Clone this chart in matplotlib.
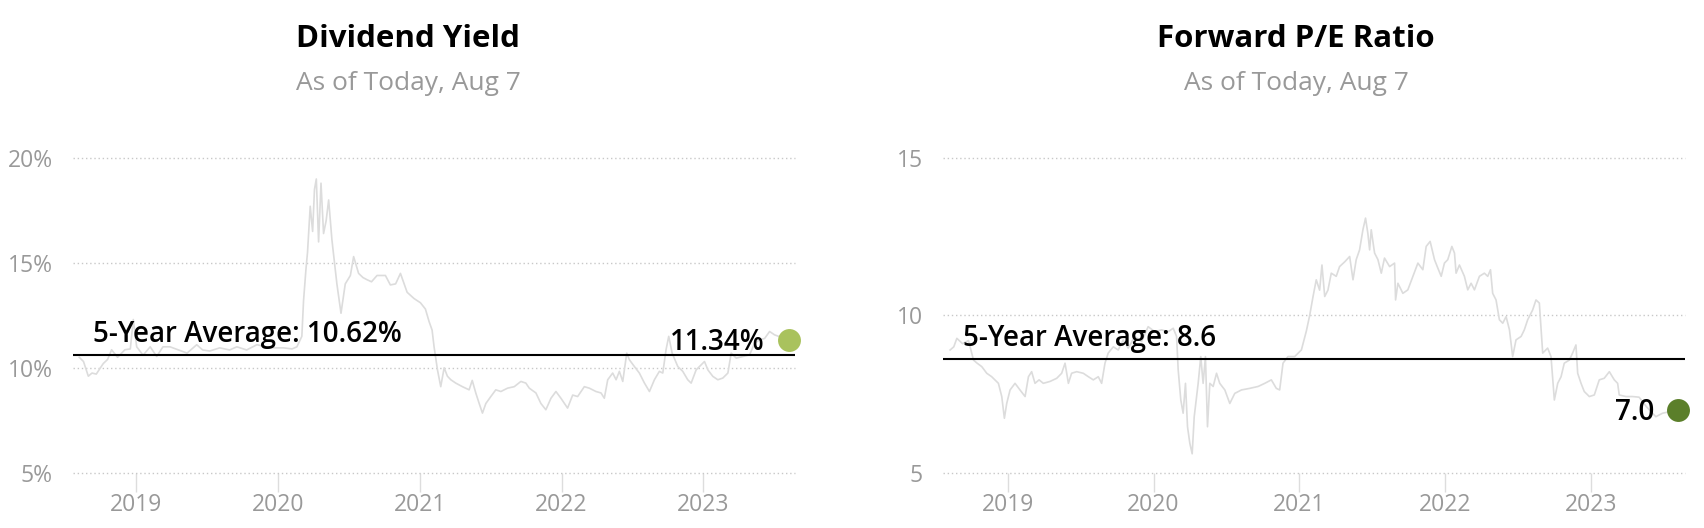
import matplotlib
matplotlib.use('Agg')
import matplotlib.pyplot as plt
from matplotlib import font_manager as fm

plt.rcParams['font.family'] = ['Open Sans', 'DejaVu Sans']

# ---- data (x = decimal year) ----
dy_t = [2018.600, 2018.630, 2018.664, 2018.690, 2018.720, 2018.769, 2018.800, 2018.828, 2018.870, 2018.922,
        2018.960, 2018.981, 2019.005, 2019.050, 2019.100, 2019.146, 2019.190, 2019.240, 2019.300, 2019.360,
        2019.428, 2019.470, 2019.520, 2019.590, 2019.660, 2019.711, 2019.780, 2019.852, 2019.920, 2019.980,
        2020.040, 2020.100, 2020.134, 2020.169, 2020.181, 2020.198, 2020.209, 2020.228, 2020.245, 2020.258,
        2020.271, 2020.287, 2020.304, 2020.322, 2020.340, 2020.358, 2020.381, 2020.416, 2020.445, 2020.475,
        2020.511, 2020.534, 2020.569, 2020.600, 2020.628, 2020.660, 2020.699, 2020.758, 2020.793, 2020.830,
        2020.864, 2020.890, 2020.911, 2020.960, 2021.005, 2021.040, 2021.066, 2021.087, 2021.101, 2021.125,
        2021.148, 2021.172, 2021.195, 2021.219, 2021.254, 2021.301, 2021.348, 2021.370, 2021.395, 2021.419,
        2021.442, 2021.466, 2021.501, 2021.536, 2021.572, 2021.619, 2021.666, 2021.713, 2021.748, 2021.772,
        2021.819, 2021.854, 2021.889, 2021.925, 2021.960, 2021.995, 2022.042, 2022.078, 2022.113, 2022.160,
        2022.195, 2022.242, 2022.278, 2022.301, 2022.325, 2022.360, 2022.384, 2022.407, 2022.431, 2022.459,
        2022.478, 2022.513, 2022.548, 2022.584, 2022.619, 2022.654, 2022.689, 2022.713, 2022.736, 2022.755,
        2022.779, 2022.819, 2022.854, 2022.889, 2022.913, 2022.948, 2022.984, 2023.007, 2023.031, 2023.066,
        2023.101, 2023.136, 2023.172, 2023.195, 2023.231, 2023.278, 2023.325, 2023.360, 2023.395, 2023.431,
        2023.466, 2023.501, 2023.550, 2023.600]
dy_v = [10.5, 10.3, 9.6, 9.75, 9.7, 10.2, 10.4, 10.86, 10.5, 10.86,
        10.9, 12.3, 11.0, 10.6, 11.0, 10.54, 11.0, 11.0, 10.85, 10.7,
        11.1, 10.85, 10.8, 10.95, 10.85, 11.0, 10.85, 11.1, 11.0, 10.95,
        10.95, 10.9, 11.0, 11.5, 13.2, 14.7, 15.5, 17.7, 16.5, 18.5,
        19.0, 16.0, 18.8, 16.4, 17.0, 18.0, 16.1, 14.0, 12.6, 14.0,
        14.4, 15.3, 14.5, 14.3, 14.2, 14.1, 14.4, 14.4, 13.95, 14.0,
        14.5, 14.0, 13.6, 13.3, 13.1, 12.8, 12.2, 11.8, 11.0, 9.9,
        9.1, 10.0, 9.6, 9.43, 9.27, 9.1, 8.95, 9.4, 8.8, 8.3,
        7.84, 8.3, 8.63, 8.95, 8.87, 9.03, 9.1, 9.35, 9.27, 9.03,
        8.8, 8.3, 8.0, 8.55, 8.87, 8.55, 8.08, 8.7, 8.63, 9.1,
        9.03, 8.87, 8.8, 8.55, 9.43, 9.75, 9.43, 9.83, 9.35, 10.7,
        10.38, 10.06, 9.75, 9.27, 8.87, 9.43, 9.83, 9.75, 10.86, 11.5,
        10.7, 10.06, 9.83, 9.43, 9.27, 9.9, 10.14, 10.3, 9.9, 9.59,
        9.43, 9.51, 9.75, 10.7, 10.46, 10.54, 10.62, 11.17, 11.33, 11.4,
        11.73, 11.57, 11.45, 11.34]

pe_t = [2018.605, 2018.630, 2018.651, 2018.690, 2018.731, 2018.765, 2018.790, 2018.822, 2018.856, 2018.890,
        2018.936, 2018.959, 2018.977, 2018.993, 2019.016, 2019.050, 2019.084, 2019.119, 2019.142, 2019.164,
        2019.187, 2019.215, 2019.244, 2019.290, 2019.336, 2019.370, 2019.393, 2019.416, 2019.438, 2019.473,
        2019.518, 2019.553, 2019.587, 2019.621, 2019.644, 2019.667, 2019.689, 2019.724, 2019.758, 2019.792,
        2019.826, 2019.872, 2019.918, 2019.963, 2020.009, 2020.055, 2020.100, 2020.135, 2020.158, 2020.169,
        2020.187, 2020.203, 2020.219, 2020.233, 2020.249, 2020.265, 2020.279, 2020.295, 2020.306, 2020.324,
        2020.340, 2020.356, 2020.370, 2020.386, 2020.409, 2020.432, 2020.454, 2020.489, 2020.523, 2020.557,
        2020.603, 2020.660, 2020.717, 2020.763, 2020.808, 2020.842, 2020.865, 2020.888, 2020.922, 2020.968,
        2021.014, 2021.048, 2021.071, 2021.094, 2021.116, 2021.139, 2021.155, 2021.174, 2021.196, 2021.219,
        2021.253, 2021.276, 2021.311, 2021.345, 2021.368, 2021.390, 2021.413, 2021.436, 2021.454, 2021.470,
        2021.482, 2021.493, 2021.516, 2021.539, 2021.562, 2021.584, 2021.619, 2021.653, 2021.660, 2021.676,
        2021.710, 2021.744, 2021.779, 2021.813, 2021.847, 2021.870, 2021.897, 2021.927, 2021.950, 2021.973,
        2021.995, 2022.018, 2022.046, 2022.064, 2022.075, 2022.098, 2022.132, 2022.155, 2022.178, 2022.201,
        2022.235, 2022.269, 2022.292, 2022.311, 2022.326, 2022.349, 2022.372, 2022.395, 2022.418, 2022.441,
        2022.463, 2022.486, 2022.521, 2022.543, 2022.566, 2022.600, 2022.623, 2022.646, 2022.669, 2022.703,
        2022.726, 2022.749, 2022.772, 2022.795, 2022.817, 2022.852, 2022.874, 2022.897, 2022.909, 2022.932,
        2022.954, 2022.989, 2023.023, 2023.057, 2023.091, 2023.126, 2023.160, 2023.183, 2023.194, 2023.240,
        2023.285, 2023.330, 2023.380, 2023.445, 2023.491, 2023.550, 2023.600]
pe_v = [8.9, 9.0, 9.27, 9.1, 9.2, 8.58, 8.48, 8.37, 8.16, 8.05,
        7.84, 7.42, 6.73, 7.2, 7.63, 7.84, 7.63, 7.42, 8.05, 8.21,
        7.84, 7.95, 7.84, 7.9, 8.0, 8.16, 8.48, 7.84, 8.16, 8.21,
        8.16, 8.05, 7.95, 8.05, 7.84, 8.48, 8.8, 9.0, 8.9, 9.22,
        8.96, 9.33, 9.17, 9.64, 9.48, 9.54, 9.48, 9.59, 9.33, 8.27,
        7.31, 6.89, 7.84, 6.46, 5.93, 5.6, 6.78, 7.42, 7.84, 8.69,
        7.84, 8.69, 6.46, 7.84, 7.74, 8.16, 7.84, 7.63, 7.2, 7.52,
        7.63, 7.68, 7.74, 7.84, 7.95, 7.68, 7.63, 8.48, 8.69, 8.69,
        8.9, 9.5, 10.0, 10.6, 11.13, 10.8, 11.6, 10.6, 10.8, 11.34,
        11.24, 11.55, 11.7, 11.87, 11.13, 11.77, 12.08, 12.72, 13.09, 12.6,
        12.08, 12.72, 11.98, 11.77, 11.34, 11.82, 11.55, 11.66, 10.49, 11.02,
        10.7, 10.81, 11.24, 11.66, 11.45, 12.19, 12.35, 11.77, 11.5, 11.24,
        11.66, 11.77, 12.19, 11.98, 11.34, 11.6, 11.24, 10.81, 11.02, 10.81,
        11.24, 11.34, 11.24, 11.45, 10.7, 10.49, 9.86, 9.75, 9.96, 9.54,
        8.69, 9.22, 9.33, 9.54, 9.86, 10.17, 10.49, 10.39, 8.8, 8.96,
        8.69, 7.31, 7.84, 8.05, 8.48, 8.58, 8.8, 9.06, 8.16, 7.84,
        7.58, 7.42, 7.47, 7.95, 8.0, 8.21, 7.95, 7.84, 7.47, 7.42,
        7.42, 7.4, 7.1, 6.78, 6.89, 6.95, 7.0]

years = [2019, 2020, 2021, 2022, 2023]
dy_ticks = [5, 10, 15, 20]
pe_ticks = [5, 10, 15]
dy_avg = 10.62
pe_avg = 8.6
subtitle = 'As of Today, Aug 7'

W, H = 1704, 528
GRAY_TXT = '#999999'
LINE = '#dcdcdc'

# semibold face for the annotation labels (static file if present)
semi_path = None
for f in fm.fontManager.ttflist:
    if f.fname.endswith('OpenSans-Semibold.ttf'):
        semi_path = f.fname
        break
if semi_path:
    label_font = fm.FontProperties(fname=semi_path, size=20)
else:
    label_font = fm.FontProperties(family='Open Sans', weight='semibold', size=20)

fig = plt.figure(figsize=(W / 100, H / 100), dpi=100)
ax1 = fig.add_axes([73 / W, 55.3 / H, 722 / W, 314.7 / H])
ax2 = fig.add_axes([943 / W, 55.3 / H, 742 / W, 314.7 / H])


def style(ax, yticks, ylabels):
    ax.set_xlim(2018.556, 2023.645)
    ax.set_ylim(yticks[0], yticks[-1])
    ax.set_yticks(yticks)
    ax.set_yticklabels(ylabels)
    ax.set_xticks(years)
    ax.set_xticklabels([str(y) for y in years])
    for s in ax.spines.values():
        s.set_visible(False)
    ax.grid(axis='y', color='#c8c8c8', linestyle=(0, (1, 2)), linewidth=1)
    ax.grid(axis='x', visible=False)
    for gl in ax.yaxis.get_gridlines():
        gl.set_clip_on(False)
    # pad / length are in points (dpi 100 -> 1 px = 0.72 pt)
    ax.tick_params(axis='y', length=0, pad=14.4, labelsize=16.5, labelcolor=GRAY_TXT)
    ax.tick_params(axis='x', length=13.7, width=1, color='#dddddd', pad=1,
                   labelsize=16.5, labelcolor=GRAY_TXT)
    ax.set_axisbelow(True)


def draw(ax, t, v, avg, avg_txt, last_txt, dot_color):
    ax.plot(t, v, color=LINE, lw=1.2, zorder=2)
    ax.axhline(avg, color='black', lw=1.5, zorder=3)
    ax.annotate(avg_txt, xy=(0, avg), xycoords=('axes fraction', 'data'),
                xytext=(14.4, 9.4), textcoords='offset points',
                fontproperties=label_font, color='black', va='baseline', ha='left')
    ax.plot(t[-1], v[-1], 'o', ms=16.5, color=dot_color, mec='none', clip_on=False, zorder=5)
    ax.annotate(last_txt, xy=(t[-1], v[-1]), xytext=(-17.3, -7.2), textcoords='offset points',
                fontproperties=label_font, color='black', va='baseline', ha='right', zorder=4)


style(ax1, dy_ticks, [f'{y}%' for y in dy_ticks])
draw(ax1, dy_t, dy_v, dy_avg, f'5-Year Average: {dy_avg:.2f}%', f'{dy_v[-1]:.2f}%', '#a9c25d')

style(ax2, pe_ticks, [str(y) for y in pe_ticks])
draw(ax2, pe_t, pe_v, pe_avg, f'5-Year Average: {pe_avg:.1f}', f'{pe_v[-1]:.1f}', '#5b7f2a')

# titles
fig.text(408 / W, 1 - 46.7 / H, 'Dividend Yield', ha='center', va='baseline',
         fontsize=22.5, fontweight='bold', color='black')
fig.text(408 / W, 1 - 90 / H, subtitle, ha='center', va='baseline', fontsize=19, color=GRAY_TXT)
fig.text(1296 / W, 1 - 46.7 / H, 'Forward P/E Ratio', ha='center', va='baseline',
         fontsize=22.5, fontweight='bold', color='black')
fig.text(1296 / W, 1 - 90 / H, subtitle, ha='center', va='baseline', fontsize=19, color=GRAY_TXT)

fig.savefig('out.png', dpi=100)
